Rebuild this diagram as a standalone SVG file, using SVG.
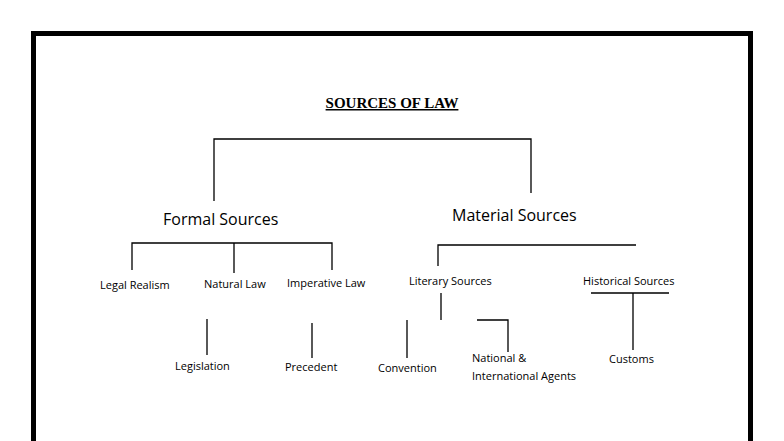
<svg xmlns="http://www.w3.org/2000/svg" width="784" height="441" viewBox="0 0 784 441">
<style>
.l{stroke:#000;stroke-width:1.3;fill:none}
.t{font-family:"Open Sans","Liberation Sans",sans-serif;font-size:11px;fill:#000}
.m{font-family:"Open Sans","Liberation Sans",sans-serif;font-size:16px;fill:#000}
</style>
<rect width="784" height="441" fill="#fff"/>
<path d="M33.5 445 V33.5 H750.5 V445" fill="none" stroke="#000" stroke-width="5"/>
<g id="title"><text x="392" y="108" text-anchor="middle" font-family="'Liberation Serif',serif" font-weight="bold" font-size="15" text-decoration="underline">SOURCES OF LAW</text></g>
<g id="connectors">
<path class="l" d="M214 201V139H531V193"/>
<path class="l" d="M132 270V243H332V270M234 243V273"/>
<path class="l" d="M438 266V245H636"/>
<path class="l" d="M591 293H669M633 293V350"/>
<path class="l" d="M441 293V320M407 320V358M477 320H508V352"/>
<path class="l" d="M207 319V355M312 323V358"/>
</g>
<g id="formal"><text class="m" x="163" y="225">Formal Sources</text></g>
<g id="material"><text class="m" x="452" y="221">Material Sources</text></g>
<g id="legal"><text class="t" x="100" y="289">Legal Realism</text></g>
<g id="natural"><text class="t" x="204" y="288">Natural Law</text></g>
<g id="imperative"><text class="t" x="287" y="287">Imperative Law</text></g>
<g id="legislation"><text class="t" x="175" y="370">Legislation</text></g>
<g id="precedent"><text class="t" x="285" y="371">Precedent</text></g>
<g id="literary"><text class="t" x="409" y="285">Literary Sources</text></g>
<g id="historical"><text class="t" x="583" y="285">Historical Sources</text></g>
<g id="customs"><text class="t" x="609" y="363">Customs</text></g>
<g id="convention"><text class="t" x="378" y="372">Convention</text></g>
<g id="agents"><text class="t" x="472" y="362">National &amp;</text><text class="t" x="472" y="380">International Agents</text></g>
</svg>
